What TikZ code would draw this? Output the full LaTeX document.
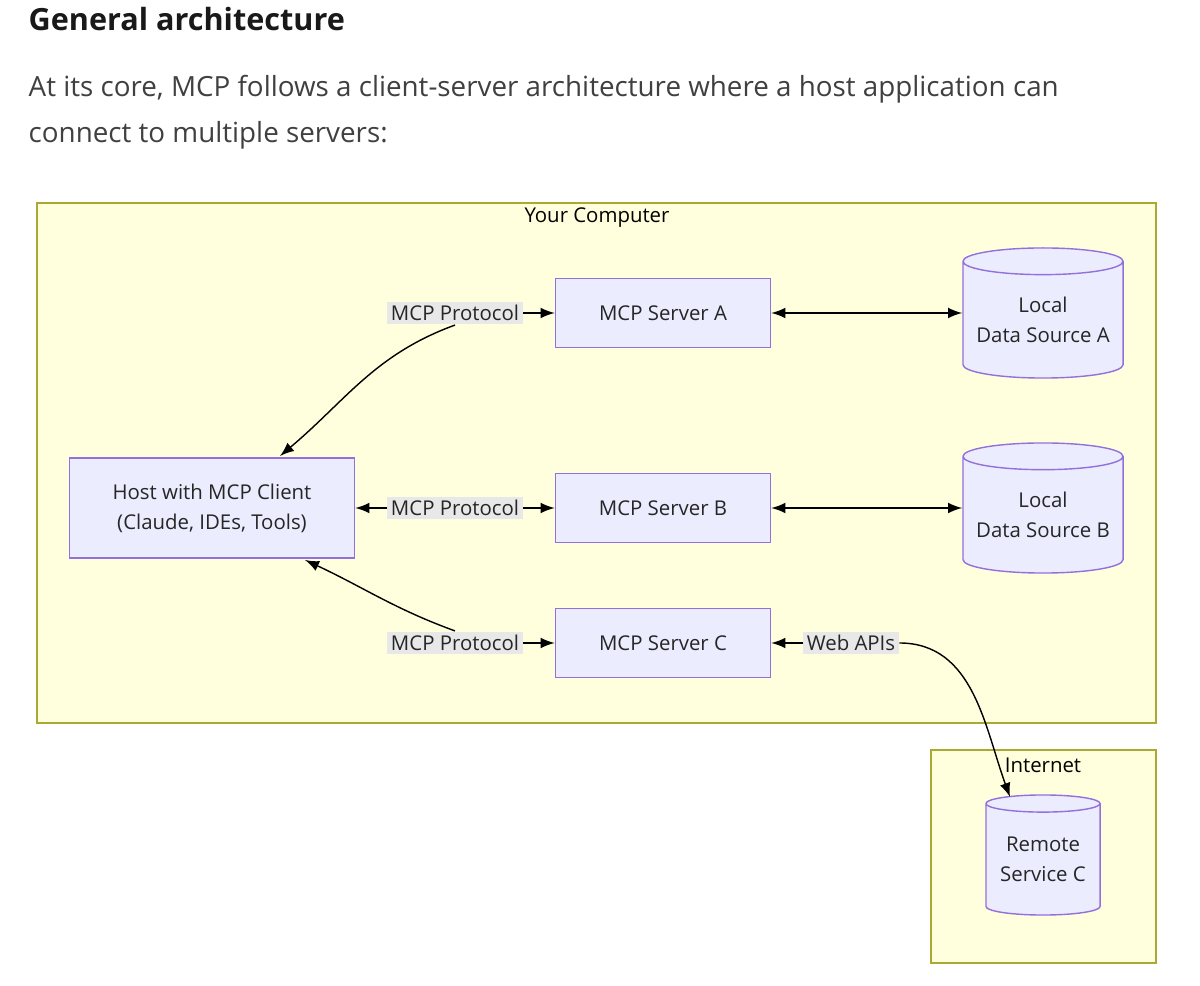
\documentclass[tikz,border=0pt]{standalone}
\usepackage{fontspec}
\setmainfont{Open Sans}
\usetikzlibrary{shapes.geometric,positioning}
\definecolor{boxfill}{HTML}{ECECFF}
\definecolor{boxline}{HTML}{9370DB}
\definecolor{grpfill}{HTML}{FFFFDE}
\definecolor{grpline}{HTML}{AAAA33}
\definecolor{lblfill}{HTML}{E8E8E8}
\tikzset{>=latex}
\tikzstyle{srv}=[rectangle,draw=boxline,fill=boxfill,minimum width=2.15cm,minimum height=0.69cm,
  font=\fontsize{5.8}{8.5}\selectfont,align=center,text=black!85]
\tikzstyle{db}=[cylinder,shape border rotate=90,aspect=0.2,draw=boxline,fill=boxfill,inner sep=0pt,
  anchor=shape center,font=\fontsize{5.8}{8.5}\selectfont,align=center,text=black!85]
\tikzstyle{lbl}=[fill=lblfill,inner sep=1pt,font=\fontsize{5.8}{8}\selectfont,text=black!85]
\tikzstyle{grp}=[draw=grpline,fill=grpfill]
\begin{document}
\begin{tikzpicture}[x=0.01cm,y=-0.01cm]
  \useasboundingbox (0,0) rectangle (1200,986);
  \fill[white] (0,0) rectangle (1200,986);

  \node[anchor=base west,inner sep=0pt,font=\fontsize{8.7}{10}\selectfont\bfseries,text=black!90] (title) at (28,31) {General architecture};
  \node[anchor=base west,inner sep=0pt,font=\fontsize{7.9}{10}\selectfont,text=black!75] (par1) at (28,97) {At its core, MCP follows a client-server architecture where a host application can};
  \node[anchor=base west,inner sep=0pt,font=\fontsize{7.9}{10}\selectfont,text=black!75] (par2) at (28,143) {connect to multiple servers:};

  % groups
  \draw[grp] (37,203) rectangle (1156,723);
  \node[font=\fontsize{5.8}{8}\selectfont] (yc) at (597,218) {Your Computer};
  \draw[grp] (931,750) rectangle (1156,963);
  \node[font=\fontsize{5.8}{8}\selectfont] (inet) at (1043,765) {Internet};

  % nodes
  \node[srv,minimum width=2.85cm,minimum height=1cm] (host) at (212,508) {Host with MCP Client\\(Claude, IDEs, Tools)};
  \node[srv] (srva) at (663,313) {MCP Server A};
  \node[srv] (srvb) at (663,508) {MCP Server B};
  \node[srv] (srvc) at (663,643) {MCP Server C};
  \node[db,minimum width=1.6cm,minimum height=1.3cm] (dsa) at (1043,313) {Local\\Data Source A};
  \node[db,minimum width=1.6cm,minimum height=1.3cm] (dsb) at (1043,508) {Local\\Data Source B};
  \node[db,minimum width=1.14cm,minimum height=1.2cm] (rsc) at (1043,855) {Remote\\Service C};

  % labels
  \node[lbl] (pa) at (455,313) {MCP Protocol};
  \node[lbl] (pb) at (455,508) {MCP Protocol};
  \node[lbl] (pc) at (455,643) {MCP Protocol};
  \node[lbl] (web) at (851,643) {Web APIs};

  % connectors
  \draw[->] (pa.south) to[out=200,in=40] (280,456);
  \draw[->] (pa) -- (srva);
  \draw[->] (pb) -- (host);
  \draw[->] (pb) -- (srvb);
  \draw[->] (pc.north) to[out=160,in=-25] (305,560);
  \draw[->] (pc) -- (srvc);
  \draw[<->] (srva.east) -- (srva.east -| dsa.west);
  \draw[<->] (srvb.east) -- (srvb.east -| dsb.west);
  \draw[->] (web) -- (srvc);
  \draw[->] (web.east) to[out=0,in=110] (1010,797);
\end{tikzpicture}
\end{document}
